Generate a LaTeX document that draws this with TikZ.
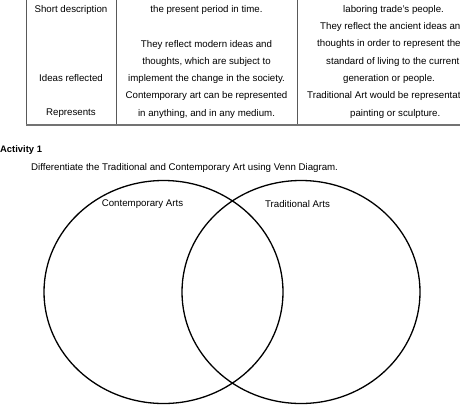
\documentclass[tikz,border=0pt]{standalone}
\usepackage{fontspec}
\setmainfont{Liberation Sans}
\begin{document}
\begin{tikzpicture}[x=1pt,y=-1pt,
  txt/.style={inner sep=0pt,font=\fontsize{9.7}{10}\selectfont},
  grid/.style={draw=black!65,line width=0.8pt},
  venn/.style={draw=black,line width=1.3pt}]
\useasboundingbox (0,0) rectangle (460,405);
\fill[white] (0,0) rectangle (460,405);
% table lines
\draw[grid] (26,0) -- (26,125);
\draw[grid] (116,0) -- (116,125);
\draw[grid] (297,0) -- (297,125);
\draw[draw=black!55,line width=1.6pt] (26,125) -- (460,125);
% column 1
\node[txt] (c1a) at (71,9.5) {Short description};
\node[txt] (c1b) at (71,78.5) {Ideas reflected};
\node[txt] (c1c) at (71,113.5) {Represents};
% column 2
\node[txt] (c2a) at (206.5,9.5) {the present period in time.};
\node[txt] (c2b) at (206.5,44.5) {They reflect modern ideas and};
\node[txt] (c2c) at (206.5,61.5) {thoughts, which are subject to};
\node[txt] (c2d) at (206.5,78.5) {implement the change in the society.};
\node[txt] (c2e) at (206.5,96) {Contemporary art can be represented};
\node[txt] (c2f) at (206.5,113.5) {in anything, and in any medium.};
% column 3
\node[txt,anchor=west] (c3a) at (343,9.5) {laboring trade's people.};
\node[txt,anchor=west] (c3b) at (320,26.5) {They reflect the ancient ideas an};
\node[txt,anchor=west] (c3c) at (317,44) {thoughts in order to represent the};
\node[txt,anchor=west] (c3d) at (326,61.5) {standard of living to the current};
\node[txt,anchor=west] (c3e) at (343,79) {generation or people.};
\node[txt,anchor=west] (c3f) at (307,96) {Traditional Art would be representat};
\node[txt,anchor=west] (c3g) at (350,113.5) {painting or sculpture.};
% activity
\node[txt,anchor=west,font=\fontsize{9.4}{10}\selectfont\bfseries] (act) at (0,150) {Activity 1};
\node[txt,anchor=west] (inst) at (31,168) {Differentiate the Traditional and Contemporary Art using Venn Diagram.};
% venn
\draw[venn] (163.5,292) ellipse [x radius=119.5, y radius=111.5];
\draw[venn] (301,292) ellipse [x radius=119, y radius=111.5];
\node[txt] (lc) at (142.5,204) {Contemporary Arts};
\node[txt] (lt) at (297.5,204) {Traditional Arts};
\end{tikzpicture}
\end{document}
